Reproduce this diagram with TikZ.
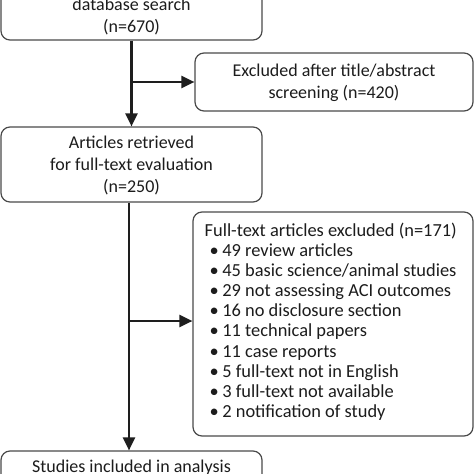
\documentclass[tikz,border=0pt]{standalone}
\usepackage{fontspec}
\setmainfont{Carlito}
\usetikzlibrary{arrows.meta}
\definecolor{boxgray}{HTML}{4A4A4A}
\definecolor{textcol}{HTML}{1C1C1C}
\definecolor{arrcol}{HTML}{1E1E1E}
\begin{document}
\begin{tikzpicture}[x=1pt,y=-1pt,
  box/.style={draw=boxgray, line width=1.2pt, rounded corners=9pt, inner sep=0pt},
  txt/.style={font=\fontsize{18}{22.3}\selectfont, align=center, text=textcol, inner sep=0pt},
  listtxt/.style={font=\fontsize{18.4}{20.15}\selectfont, align=left, text=textcol, inner sep=0pt},
  arr/.style={line width=2.2pt, draw=arrcol, -{Triangle[length=13pt,width=12pt]}}]
\useasboundingbox (0,0) rectangle (474,474);
\clip (0,0) rectangle (474,474);
\fill[white] (0,0) rectangle (474,474);

% boxes
\node[box, minimum width=261pt, minimum height=100pt] (search) at (131.5,-10) {};
\node[txt] (searchtxt) at (131.5,16.5) {database search\\(n=670)};

\node[box, minimum width=278pt, minimum height=58pt] (excl1) at (334,82) {};
\node[txt] (excl1txt) at (334,83) {Excluded after title/abstract\\screening (n=420)};

\node[box, minimum width=261pt, minimum height=75pt] (retr) at (131.5,164.5) {};
\node[txt] (retrtxt) at (131.5,165.5) {Articles retrieved\\for full-text evaluation\\(n=250)};

\node[box, minimum width=280pt, minimum height=224pt] (excl2) at (333,324) {};
\node[listtxt, anchor=north west] (excl2txt) at (204.5,222.5) {Full-text articles excluded (n=171)\\
\hspace{5pt}\textbullet\hspace{3.5pt}49 review articles\\
\hspace{5pt}\textbullet\hspace{3.5pt}45 basic science/animal studies\\
\hspace{5pt}\textbullet\hspace{3.5pt}29 not assessing ACI outcomes\\
\hspace{5pt}\textbullet\hspace{3.5pt}16 no disclosure section\\
\hspace{5pt}\textbullet\hspace{3.5pt}11 technical papers\\
\hspace{5pt}\textbullet\hspace{3.5pt}11 case reports\\
\hspace{5pt}\textbullet\hspace{3.5pt}5 full-text not in English\\
\hspace{5pt}\textbullet\hspace{3.5pt}3 full-text not available\\
\hspace{5pt}\textbullet\hspace{3.5pt}2 notification of study};

\node[box, minimum width=261pt, minimum height=100pt] (final) at (131.5,501) {};
\node[txt] (finaltxt) at (131.5,468) {Studies included in analysis};

% connectors
\coordinate (b1) at (search.south |- excl1.west);
\coordinate (b2) at (129,321);
\draw[arr] (search.south) -- (retr.north);
\draw[arr] (b1) -- (excl1.west);
\draw[line width=2.2pt, draw=arrcol] (retr.south -| b2) -- (b2);
\draw[arr] (b2) -- (final.north -| b2);
\draw[arr] (b2) -- (b2 -| excl2.west);
\end{tikzpicture}
\end{document}
